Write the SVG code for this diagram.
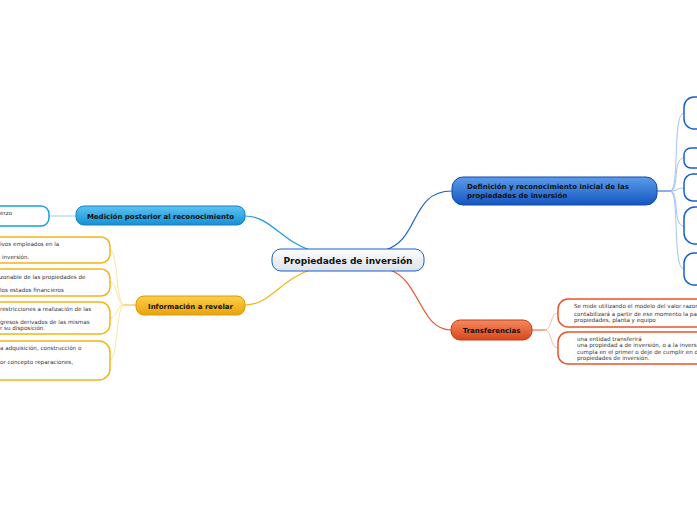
<svg xmlns="http://www.w3.org/2000/svg" width="697" height="520" viewBox="0 0 697 520">
<style>
text{font-family:"DejaVu Sans",Verdana,sans-serif;}
.t{font-size:5.6px;fill:#333}
.h{font-size:7px;font-weight:bold;fill:#111}
.bo{fill:#fff;stroke:#1a5fd0;stroke-width:1.5}
.oo{fill:#fff;stroke:#e8542a;stroke-width:1.5}
.yo{fill:#fff;stroke:#f5b417;stroke-width:1.5}
.co{fill:#fff;stroke:#1a9ee0;stroke-width:1.5}
</style>
<defs>
<linearGradient id="gb" x1="0" y1="0" x2="0" y2="1"><stop offset="0" stop-color="#5b9cec"/><stop offset="1" stop-color="#1456c0"/></linearGradient>
<linearGradient id="go" x1="0" y1="0" x2="0" y2="1"><stop offset="0" stop-color="#f58a5e"/><stop offset="1" stop-color="#d9461b"/></linearGradient>
<linearGradient id="gy" x1="0" y1="0" x2="0" y2="1"><stop offset="0" stop-color="#fbd04a"/><stop offset="1" stop-color="#eaa30c"/></linearGradient>
<linearGradient id="gc" x1="0" y1="0" x2="0" y2="1"><stop offset="0" stop-color="#5cc4f2"/><stop offset="1" stop-color="#168fd6"/></linearGradient>
<linearGradient id="gg" x1="0" y1="0" x2="0" y2="1"><stop offset="0" stop-color="#fdfdfd"/><stop offset="1" stop-color="#dde3ea"/></linearGradient>
</defs>
<g id="connectors" fill="none">
<path d="M385,250 C420,240 410,191 452,191" stroke="#1a5fd0" stroke-width="1.2"/>
<path d="M390,270 C420,280 420,330 451,330" stroke="#e8542a" stroke-width="1.2"/>
<path d="M310,250 C280,240 270,216 245,216" stroke="#1a9ee0" stroke-width="1.2"/>
<path d="M310,270 C280,280 270,305 245,305" stroke="#f5b417" stroke-width="1.2"/>
<path d="M657,191 L670,191" stroke="#1a5fd0" stroke-width="1"/>
<g stroke="#8fb4ee" stroke-width="0.8">
<path d="M670,191 C680,191 672,113 684,113"/><path d="M670,191 C680,191 672,158 684,158"/><path d="M670,191 C680,191 675,188 684,188"/><path d="M670,191 C680,191 672,226 684,226"/><path d="M670,191 C680,191 672,269 684,269"/>
</g>
<path d="M532,330 L545,330" stroke="#e8542a" stroke-width="1"/>
<g stroke="#f3a98e" stroke-width="0.8"><path d="M545,330 C552,330 550,313 558,313"/><path d="M545,330 C552,330 550,348 558,348"/></g>
<path d="M76,216 L49,216" stroke="#8fd2f2" stroke-width="1"/>
<path d="M136,305 L124,305" stroke="#f5b417" stroke-width="1"/>
<g stroke="#f8dc8e" stroke-width="0.8"><path d="M124,305 C116,305 118,250 110,250"/><path d="M124,305 C116,305 118,282 110,282"/><path d="M124,305 C116,305 118,318 110,318"/><path d="M124,305 C116,305 118,360 110,360"/></g>
</g>
<g id="center"><rect x="272" y="249" width="152" height="22" rx="9" fill="url(#gg)" stroke="#1a5fd0" stroke-width="1"/><text x="348" y="263.5" text-anchor="middle" style="font-size:9px;font-weight:bold;fill:#111">Propiedades de inversión</text></g>
<g id="definicion"><rect x="452" y="177" width="205" height="28" rx="11" fill="url(#gb)" stroke="#1249a8"/><text class="h" x="467" y="189">Definición y reconocimiento inicial de las</text><text class="h" x="467" y="198">propiedades de inversión</text></g>
<g id="def1"><rect class="bo" x="684" y="97" width="30" height="32" rx="10"/></g>
<g id="def2"><rect class="bo" x="684" y="148" width="30" height="20" rx="7"/></g>
<g id="def3"><rect class="bo" x="684" y="174" width="30" height="27" rx="9"/></g>
<g id="def4"><rect class="bo" x="684" y="207" width="30" height="37" rx="11"/></g>
<g id="def5"><rect class="bo" x="684" y="253" width="30" height="32" rx="10"/></g>
<g id="transferencias"><rect x="451" y="320" width="81" height="20" rx="9" fill="url(#go)" stroke="#c03d15"/><text class="h" x="491.5" y="333" text-anchor="middle">Transferencias</text></g>
<g id="tr1"><rect class="oo" x="558" y="299" width="160" height="28" rx="10"/><text class="t" x="574" y="308">Se mide utilizando el modelo del valor razon</text><text class="t" x="574" y="316">contabilizará a partir de ese momento la par</text><text class="t" x="574" y="322">propiedades, planta y equipo</text></g>
<g id="tr2"><rect class="oo" x="558" y="332" width="160" height="32" rx="10"/><text class="t" x="577" y="341">una entidad transferirá</text><text class="t" x="577" y="347">una propiedad a de inversión, o a la inversa</text><text class="t" x="577" y="354">cumpla en el primer o deje de cumplir en d</text><text class="t" x="577" y="360">propiedades de inversión.</text></g>
<g id="medicion"><rect x="76" y="206" width="169" height="19" rx="8" fill="url(#gc)" stroke="#1382c4"/><text class="h" x="160.5" y="218.5" text-anchor="middle">Medición posterior al reconocimiento</text></g>
<g id="med1"><rect class="co" x="-20" y="206" width="69" height="20" rx="8"/><text class="t" x="0" y="215">erzo</text></g>
<g id="informacion"><rect x="136" y="296" width="109" height="19" rx="8" fill="url(#gy)" stroke="#d99a0a"/><text class="h" x="190.5" y="308.5" text-anchor="middle">Información a revelar</text></g>
<g id="inf1"><rect class="yo" x="-20" y="237" width="130" height="26" rx="9"/><text class="t" x="0" y="246">ivos empleados en la</text><text class="t" x="2" y="259">inversión.</text></g>
<g id="inf2"><rect class="yo" x="-20" y="269" width="130" height="27" rx="9"/><text class="t" x="0" y="279">zonable de las propiedades de</text><text class="t" x="0" y="292">los estados financieros</text></g>
<g id="inf3"><rect class="yo" x="-20" y="302" width="130" height="32" rx="10"/><text class="t" x="0" y="311">restricciones a realización de las</text><text class="t" x="0" y="324">gresos derivados de las mismas</text><text class="t" x="0" y="330">r su disposición.</text></g>
<g id="inf4"><rect class="yo" x="-20" y="341" width="130" height="39" rx="11"/><text class="t" x="0" y="350">a adquisición, construcción o</text><text class="t" x="0" y="364">or concepto reparaciones,</text></g>
</svg>
